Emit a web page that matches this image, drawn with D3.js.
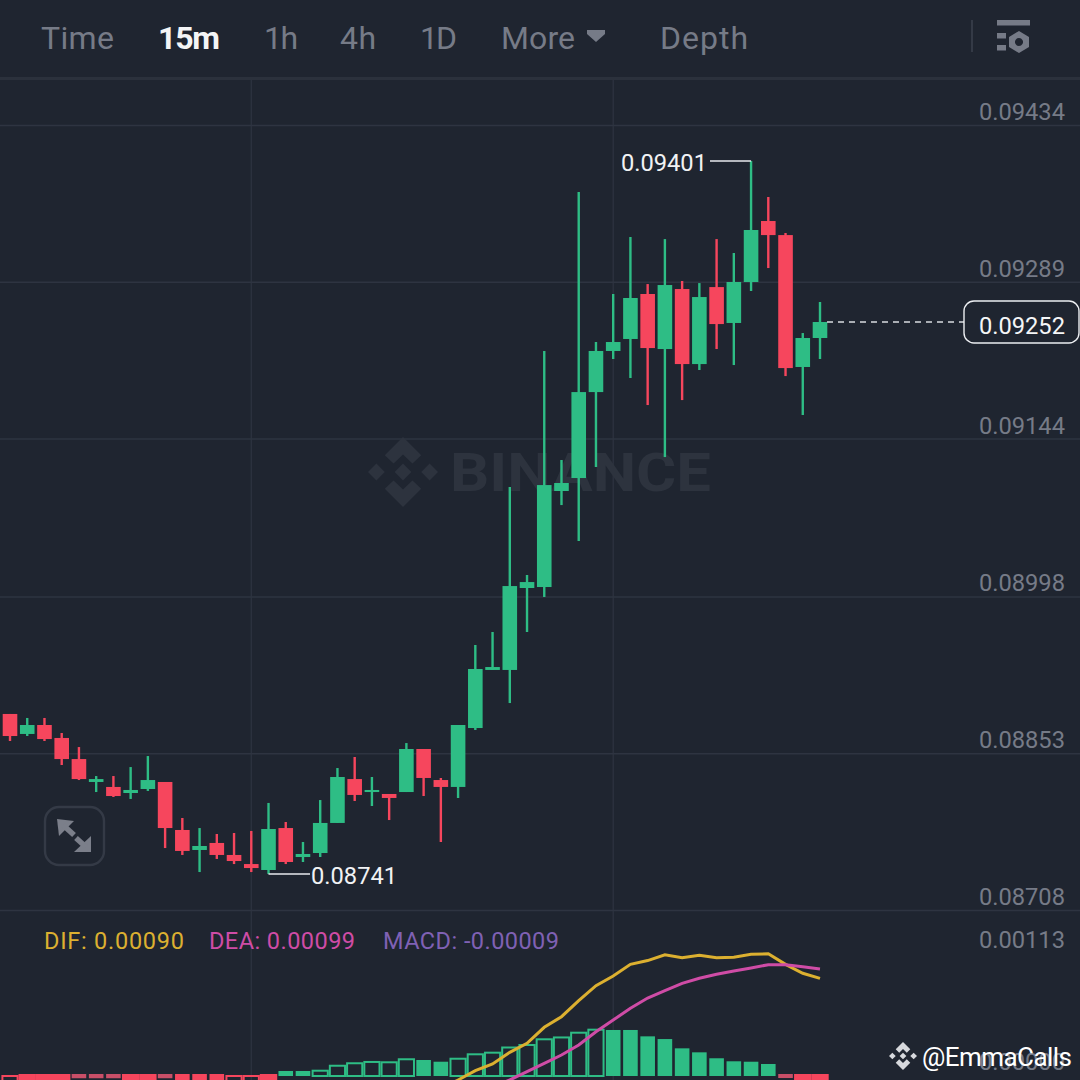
<!DOCTYPE html>
<html><head><meta charset="utf-8">
<style>html,body{margin:0;padding:0;background:#1f2530;overflow:hidden}svg{display:block}text{font-family:Roboto,"Open Sans",sans-serif}</style>
<script src="https://cdn.jsdelivr.net/npm/d3@7/dist/d3.min.js"></script>
</head><body><svg id="c" width="1080" height="1080"></svg>
<script>
const opens=[.088893,.088708,.088791,.088671,.088476,.088264,.088218,.088162,.088199,.088264,.087820,.087635,.087700,.087589,.087505,.087450,.087838,.087570,.087607,.087885,.088291,.088171,.088153,.088171,.088569,.088282,.088218,.088763,.089300,.089300,.090058,.090067,.090955,.091075,.091870,.092250,.092361,.092777,.092268,.092823,.092129,.092841,.092509,.092888,.093452,.093322,.092102,.092370];
const closes=[.088689,.088791,.088661,.088476,.088291,.088291,.088134,.088190,.088282,.087838,.087626,.087672,.087589,.087533,.087468,.087829,.087524,.087598,.087885,.088310,.088144,.088190,.088116,.088569,.088301,.088218,.088791,.089309,.089327,.090076,.090113,.091010,.091029,.091870,.092250,.092333,.092740,.092277,.092860,.092129,.092749,.092499,.092888,.093369,.093322,.092092,.092370,.092518];
const highs=[.088893,.088856,.088856,.088717,.088587,.088319,.088319,.088402,.088504,.088264,.087931,.087838,.087783,.087792,.087811,.088070,.087894,.087709,.088097,.088393,.088495,.088310,.088153,.088624,.088569,.088301,.088791,.089531,.089651,.090992,.090178,.092250,.091242,.093720,.092333,.092777,.093304,.092869,.093285,.092897,.092878,.093285,.093156,.094007,.093674,.093341,.092416,.092703];
const lows=[.088643,.088689,.088643,.088421,.088282,.088171,.088125,.088107,.088181,.087653,.087589,.087431,.087552,.087505,.087431,.087413,.087505,.087524,.087570,.087885,.088088,.088042,.087912,.088171,.088134,.087709,.088116,.088745,.089300,.088994,.089651,.089975,.090825,.090493,.091177,.092176,.092000,.091750,.091269,.091796,.092074,.092268,.092120,.092805,.093017,.092018,.091658,.092176];
const macd=[-.00007,-.00006,-.00006,-.00006,-.00003,-.00003,-.00003,-.00006,-.00006,-.00003,-.00005,-.00005,-.00005,-.00005,-.00005,-.00006,.000037,.000037,.000049,.000095,.000118,.000130,.000127,.000155,.000139,.000123,.000160,.000201,.000216,.000264,.000287,.000340,.000357,.000401,.000429,.000417,.000417,.000358,.000333,.000247,.000210,.000155,.000127,.000123,.000102,-.000028,-.00008,-.00009];
const hollow=[1,0,0,0,0,0,0,0,0,0,0,0,0,1,1,0,0,0,1,1,1,1,1,1,0,0,1,1,1,1,1,1,1,1,1,0,0,0,0,0,0,0,0,0,0,0,0,0];
const dif=[null,null,null,null,null,null,null,null,null,null,null,null,null,null,null,null,null,null,null,null,null,null,null,null,null,-.000130,-.000046,.000040,.000102,.000210,.000294,.000442,.000540,.000688,.000827,.000917,.001025,.001060,.001114,.001086,.001109,.001086,.001090,.001118,.001123,.001025,.000942,.000895];
const dea=[null,null,null,null,null,null,null,null,null,null,null,null,null,null,null,null,null,null,null,null,null,null,null,null,null,null,null,null,-.000111,-.000046,.000031,.000108,.000185,.000278,.000401,.000509,.000618,.000713,.000781,.000849,.000896,.000933,.000963,.000991,.001022,.001022,.001003,.000982];
const priceTicks=[.09434,.09289,.09144,.08998,.08853,.08708];
const macdTicks=[.00113,0];
const gridDates=[14,35];
const tabs=[["Time",41,114,0],["15m",158,220,1],["1h",264,298,0],["4h",340,376,0],["1D",420,457,0],["More",501,575,0],["Depth",660,748,0]];
const legend=[["DIF: 0.00090",44,184,"#dcb030"],["DEA: 0.00099",209,355,"#cf4ca6"],["MACD: -0.00009",383,559,"#7f61b4"]];
const maxLabel="0.09401",minLabel="0.08741",lastLabel="0.09252";

const GREEN="#2EBD85",RED="#F6465D",BG="#1f2530",GRID="#2e3441",AX="#767b87";
const svg=d3.select("#c");
const x=d3.scaleLinear().domain([0,47]).range([10,820]);
const y=d3.scaleLinear().domain([.08708,.09434]).range([910,125]);
const m=d3.scaleLinear().domain([0,.00113]).range([1075,953]);
svg.append("rect").attr("width",1080).attr("height",1080).attr("fill",BG);

// top border and vertical grid
svg.append("rect").attr("x",0).attr("y",77).attr("width",1080).attr("height",3).attr("fill","#2b313c");
svg.selectAll("line.v").data(gridDates).join("line").attr("x1",d=>x(d)).attr("x2",d=>x(d)).attr("y1",80).attr("y2",1080).attr("stroke",GRID).attr("stroke-width",1.2);

// price axis
const ax=svg.append("g").attr("transform","translate(1080,0)").call(d3.axisLeft(y).tickValues(priceTicks).tickFormat(d3.format(".5f")).tickSize(1080));
ax.select(".domain").remove();
ax.selectAll("line").attr("stroke",GRID).attr("stroke-width",1.5);
ax.selectAll("text").attr("x",-15).attr("dy","-5.5").attr("y",0).attr("text-anchor","end").attr("fill",AX).attr("font-size",23.7).style("font-family","Roboto");

// logo helper
function logo(g,cx,cy,R,fill){
  const P=[[[0,-1],[.52,-.48],[.27,-.24],[0,-.5],[-.27,-.24],[-.52,-.48]],
           [[0,1],[.52,.48],[.27,.24],[0,.5],[-.27,.24],[-.52,.48]],
           [[-1,0],[-.76,-.24],[-.52,0],[-.76,.24]],
           [[1,0],[.76,-.24],[.52,0],[.76,.24]],
           [[-.24,0],[0,-.24],[.24,0],[0,.24]]];
  g.selectAll(null).data(P).join("polygon").attr("fill",fill)
   .attr("points",p=>p.map(q=>[cx+q[0]*R,cy+q[1]*R].join(",")).join(" "));
}
const wm=svg.append("g");
logo(wm,403,472,35,"#2d333e");
wm.append("text").attr("x",450).attr("y",491).text("BINANCE").attr("fill","#2d333e").attr("font-size",53).attr("font-weight",700).attr("textLength",261).attr("lengthAdjust","spacingAndGlyphs");

// candles
const idx=d3.range(opens.length);
const col=i=>closes[i]>=opens[i]?GREEN:RED;
svg.append("g").selectAll("line").data(idx).join("line")
 .attr("x1",x).attr("x2",x).attr("y1",i=>y(highs[i])).attr("y2",i=>y(lows[i]))
 .attr("stroke",col).attr("stroke-width",2.4);
svg.append("g").selectAll("rect").data(idx).join("rect")
 .attr("x",i=>x(i)-7.3).attr("width",14.6)
 .attr("y",i=>y(Math.max(opens[i],closes[i])))
 .attr("height",i=>Math.max(2,Math.abs(y(opens[i])-y(closes[i]))))
 .attr("fill",col);

// high / low labels
const imax=d3.maxIndex(highs),imin=d3.minIndex(lows);
svg.append("line").attr("x1",710).attr("x2",x(imax)).attr("y1",y(highs[imax])).attr("y2",y(highs[imax])).attr("stroke","#e8eaee").attr("stroke-width",1.5);
svg.append("text").attr("x",707).attr("y",171).attr("text-anchor","end").attr("fill","#f1f2f4").attr("font-size",23.7).text(maxLabel);
svg.append("line").attr("x1",x(imin)).attr("x2",310).attr("y1",y(lows[imin])).attr("y2",y(lows[imin])).attr("stroke","#e8eaee").attr("stroke-width",1.5);
svg.append("text").attr("x",311).attr("y",884).attr("fill","#f1f2f4").attr("font-size",23.7).text(minLabel);

// current price
const ly=y(closes[47]);
svg.append("line").attr("x1",x(47)+7).attr("x2",964).attr("y1",ly).attr("y2",ly).attr("stroke","#d9dbe0").attr("stroke-width",1.4).attr("stroke-dasharray","6 5");
svg.append("rect").attr("x",964).attr("y",ly-21).attr("width",115).attr("height",42).attr("rx",10).attr("fill",BG).attr("stroke","#eceef1").attr("stroke-width",1.4);
svg.append("text").attr("x",1065).attr("y",ly+12).attr("text-anchor","end").attr("fill","#f5f6f7").attr("font-size",23.7).text(lastLabel);

// expand icon
const ex=svg.append("g");
ex.append("rect").attr("x",45).attr("y",807).attr("width",59).attr("height",58).attr("rx",14).attr("fill","none").attr("stroke","#343a46").attr("stroke-width",2.4);
ex.append("polygon").attr("points","57,819 74,821 59,836").attr("fill","#7b7f8a");
ex.append("polygon").attr("points","91,852 74,852 91,836").attr("fill","#7b7f8a");
ex.append("line").attr("x1",63).attr("y1",825).attr("x2",74).attr("y2",835).attr("stroke","#7b7f8a").attr("stroke-width",5.5);
ex.append("line").attr("x1",76).attr("y1",838).attr("x2",86).attr("y2",847).attr("stroke","#7b7f8a").attr("stroke-width",5.5);

// MACD histogram
const bars=svg.append("g");
bars.selectAll("rect").data(idx).join("rect")
 .each(function(i){
   const v=macd[i],c=v>=0?GREEN:(Math.abs(v)<.00004?"#c94f68":RED),h=hollow[i];
   const wide=v<=-.00006&&!h;
   const y0=m(Math.max(v,0)),y1=m(Math.min(v,0));
   d3.select(this).attr("x",x(i)-(h?7.6:wide?8.7:7.3)).attr("width",h?15.2:wide?17.4:14.6)
     .attr("y",h?y0+1:y0-(v<0?1:0)).attr("height",Math.max(1,y1-y0+(h?0:1)))
     .attr("fill",h?"none":c).attr("stroke",h?c:"none").attr("stroke-width",h?2:0);
 });

// MACD lines
const line=d3.line().defined(d=>d[1]!==null).x(d=>x(d[0])).y(d=>m(d[1]));
[[dif,"#dcb030"],[dea,"#cf4ca6"]].forEach(([s,c])=>{
  svg.append("path").attr("d",line(s.map((v,i)=>[i,v]))).attr("fill","none").attr("stroke",c).attr("stroke-width",3);
});

// MACD axis text
svg.selectAll("text.mt").data(macdTicks).join("text").attr("class","mt").attr("x",1065).attr("y",d=>m(d)-5.5).attr("text-anchor","end").attr("fill",AX).attr("font-size",23.7).text(d3.format(".5f"));
// legend
svg.selectAll("text.lg").data(legend).join("text").attr("class","lg").attr("x",d=>d[1]).attr("y",949).attr("fill",d=>d[3]).attr("font-size",23.5).attr("textLength",d=>d[2]-d[1]).attr("lengthAdjust","spacing").text(d=>d[0]);

// header
svg.selectAll("text.tab").data(tabs).join("text").attr("class","tab").attr("x",d=>d[1]).attr("y",49)
 .attr("fill",d=>d[3]?"#f4f5f6":"#767b87").attr("font-size",32).attr("font-weight",d=>d[3]?700:400)
 .attr("textLength",d=>d[2]-d[1]).attr("lengthAdjust","spacing").text(d=>d[0]);
svg.append("path").attr("d","M587 30 H605 V34 L596 42 L587 34 Z").attr("fill","#767b87");
svg.append("line").attr("x1",972).attr("x2",972).attr("y1",20).attr("y2",52).attr("stroke","#343a46").attr("stroke-width",2);
const st=svg.append("g").attr("fill","#767b87");
st.append("rect").attr("x",997).attr("y",20).attr("width",33).attr("height",5.5);
st.append("rect").attr("x",997).attr("y",33).attr("width",9).attr("height",5.5);
st.append("rect").attr("x",997).attr("y",45).attr("width",9).attr("height",5.5);
st.append("path").attr("fill-rule","evenodd").attr("d","M1019 31 L1029 37 V47 L1019 53 L1009 47 V37 Z M1019 38 a4 4 0 1 0 .01 0 Z");

// watermark
const wk=svg.append("g");
logo(wk,903,1056,14,"#d7d9dd");
wk.append("text").attr("x",922).attr("y",1066).attr("fill","#ffffff").attr("font-size",26).attr("textLength",150).attr("lengthAdjust","spacing").text("@EmmaCalls");
</script></body></html>
